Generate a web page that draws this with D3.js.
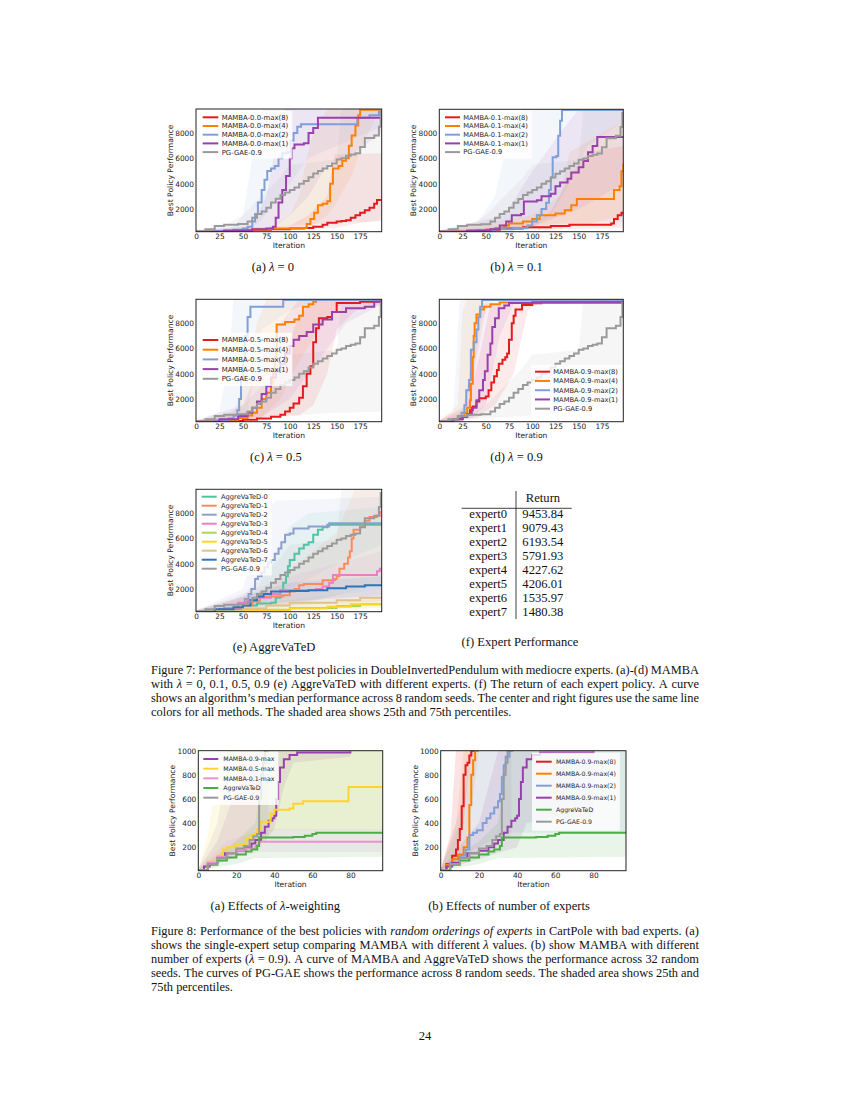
<!DOCTYPE html>
<html><head><meta charset="utf-8">
<script src="https://cdn.jsdelivr.net/npm/d3@7"></script>
<style>body{margin:0;background:#fff}</style>
</head><body>
<script>
// ---------------- DATA ----------------
const iterTicks7 = [0,25,50,75,100,125,150,175];
const perfTicks7 = [2000,4000,6000,8000];
const iterTicks8 = [0,20,40,60,80];
const perfTicks8 = [200,400,600,800,1000];

// PG-GAE (shared in Figure 7)
const pgGae7 = [[0,200],[10,400],[20,650],[30,750],[45,800],[55,1000],[60,1300],[65,1600],[70,1800],[75,2100],[80,2500],[85,2800],[90,3100],[95,3300],[100,3500],[105,3700],[110,4000],[115,4200],[120,4500],[125,4800],[130,5000],[135,5200],[140,5400],[145,5600],[150,5900],[155,6000],[160,6200],[165,6300],[170,6400],[175,6900],[180,7600],[190,7800],[195,8500],[197,9600],[198,9600]];
const pgGae7Lo = [[0,200],[60,500],[100,700],[150,900],[198,1000]];
const pgGae7Hi = [[0,300],[30,700],[50,1500],[70,3000],[90,4500],[100,5500],[150,5900],[155,9900],[198,9900]];

// (a) lambda = 0
const a_max8 = [[0,200],[20,230],[40,300],[60,350],[80,400],[100,450],[115,500],[125,600],[135,750],[140,900],[150,1000],[155,1050],[160,1100],[165,1300],[170,1500],[175,1700],[180,1900],[185,2100],[190,2400],[193,2700],[198,2700]];
const a_max8_lo = [[0,200],[150,500],[175,900],[198,1100]];
const a_max8_hi = [[0,250],[100,700],[120,1500],[140,3000],[148,6300],[198,6400]];
const a_max4 = [[0,200],[40,300],[60,400],[80,450],[100,480],[115,500],[118,800],[122,1200],[126,1700],[130,2300],[135,2400],[140,2600],[143,4000],[146,5200],[152,5400],[156,5800],[160,6000],[163,7000],[166,7800],[170,8600],[173,9400],[175,9850],[198,9850]];
const a_max4_lo = [[0,200],[110,400],[125,700],[140,1500],[150,2500],[165,4500],[175,6500],[190,9000],[198,9900]];
const a_max4_hi = [[0,300],[80,600],[100,1500],[110,3000],[118,6000],[125,8000],[140,9900],[198,9900]];
const a_max2 = [[0,200],[20,250],[40,350],[50,450],[55,600],[60,1000],[63,1600],[66,2500],[70,3500],[73,4300],[76,5000],[80,5200],[84,5400],[88,6000],[92,6400],[98,6500],[101,7400],[104,8000],[108,8500],[112,8700],[165,8700],[172,9200],[185,9400],[195,9700],[198,9800]];
const a_max2_lo = [[0,200],[55,300],[65,800],[80,2000],[100,4000],[120,6000],[150,7000],[198,8500]];
const a_max2_hi = [[0,300],[40,600],[50,1500],[60,6000],[70,9900],[198,9900]];
const a_max1 = [[0,200],[30,300],[60,400],[75,450],[82,600],[85,1300],[88,2500],[92,3500],[96,4600],[100,6000],[102,6800],[105,7100],[115,7200],[120,8000],[125,8400],[130,9200],[198,9250]];
const a_max1_lo = [[0,200],[80,400],[100,1500],[120,3000],[140,5500],[170,6500],[198,8000]];
const a_max1_hi = [[0,300],[60,700],[75,3000],[85,7000],[95,9900],[198,9900]];

// (b) lambda = 0.1
const b_max8 = [[0,200],[30,250],[50,350],[65,450],[90,550],[120,650],[140,750],[185,850],[188,1200],[192,1500],[196,1700],[198,1700]];
const b_max8_lo = [[0,200],[198,500]];
const b_max8_hi = [[0,250],[100,800],[120,1800],[140,4500],[160,6500],[198,7000]];
const b_max4 = [[0,200],[40,300],[60,500],[70,700],[75,850],[90,1000],[100,1200],[108,1500],[125,1650],[135,1900],[142,2300],[148,2800],[185,2800],[188,3500],[194,3800],[196,5000],[198,5600]];
const b_max4_lo = [[0,200],[120,400],[160,800],[198,1500]];
const b_max4_hi = [[0,300],[100,1500],[130,3000],[140,6500],[198,9000]];
const b_max2 = [[0,200],[40,300],[60,400],[80,500],[95,700],[100,1000],[105,1500],[110,2000],[115,2500],[118,3500],[120,4500],[122,6100],[126,6200],[128,7800],[130,9000],[132,9850],[198,9850]];
const b_max2_lo = [[0,200],[100,500],[120,1500],[140,4000],[160,7000],[198,9000]];
const b_max2_hi = [[0,300],[40,800],[60,3000],[75,8000],[90,9900],[198,9900]];
const b_max1 = [[0,200],[30,300],[55,400],[65,700],[72,1000],[78,1500],[88,1600],[91,2600],[105,2700],[110,3000],[120,3200],[125,3800],[130,4100],[138,4400],[142,4900],[150,5300],[155,5800],[160,6500],[165,7000],[170,7700],[198,7750]];
const b_max1_lo = [[0,200],[100,600],[150,2000],[198,4000]];
const b_max1_hi = [[0,300],[70,1500],[100,5000],[130,8000],[150,9900],[198,9900]];

// (c) lambda = 0.5
const c_max8 = [[0,200],[30,250],[50,350],[65,450],[80,600],[90,750],[95,1000],[100,1300],[104,1650],[110,2100],[114,3000],[118,4000],[122,4600],[125,6500],[128,7600],[131,8400],[140,8500],[145,8900],[150,9600],[175,9700],[196,9850],[198,9850]];
const c_max8_lo = [[0,200],[110,700],[125,1500],[140,4000],[150,7500],[170,9000],[198,9500]];
const c_max8_hi = [[0,250],[70,1200],[90,5000],[110,8500],[125,9900],[198,9900]];
const c_max4 = [[0,200],[25,300],[45,500],[55,700],[60,900],[65,1300],[70,2000],[75,2500],[80,3200],[82,4000],[84,5300],[86,7900],[95,8100],[105,8300],[110,8600],[114,9300],[120,9500],[125,9700],[128,9850],[198,9850]];
const c_max4_lo = [[0,200],[70,500],[90,2000],[110,5000],[140,8500],[160,9900],[198,9900]];
const c_max4_hi = [[0,300],[40,1000],[55,4000],[65,8000],[75,9900],[198,9900]];
const c_max2 = [[0,200],[20,300],[35,450],[40,700],[44,1100],[46,2000],[48,3500],[50,5000],[52,7000],[55,8500],[58,9300],[90,9300],[93,9850],[198,9850]];
const c_max2_lo = [[0,200],[45,400],[55,1000],[60,3000],[70,7500],[100,9000],[130,9900],[198,9900]];
const c_max2_hi = [[0,300],[25,1000],[35,5000],[40,9900],[198,9900]];
const c_max1 = [[0,200],[25,400],[45,650],[55,900],[60,1300],[65,1800],[70,2400],[75,3000],[80,3700],[85,4200],[90,4800],[95,5600],[100,6200],[104,6700],[110,7000],[118,7300],[125,7900],[135,8300],[145,8900],[160,9200],[180,9300],[190,9700],[198,9850]];
const c_max1_lo = [[0,200],[70,600],[100,2000],[130,5000],[160,8000],[198,9500]];
const c_max1_hi = [[0,300],[50,1500],[70,5000],[90,8000],[110,9900],[198,9900]];

// (d) lambda = 0.9
const d_max8 = [[0,200],[15,400],[25,600],[30,800],[33,1100],[36,1400],[40,1800],[43,2050],[50,2200],[53,2700],[56,3300],[59,3800],[62,4300],[64,4800],[68,5100],[71,5300],[73,5600],[75,6700],[78,8000],[80,8600],[82,9100],[89,9450],[100,9580],[110,9650],[198,9650]];
const d_max8_lo = [[0,200],[40,500],[60,1500],[80,4000],[95,9000],[105,9500],[198,9600]];
const d_max8_hi = [[0,300],[30,1500],[45,6000],[55,9500],[198,9700]];
const d_max4 = [[0,200],[10,350],[20,600],[27,900],[30,1300],[33,1900],[34,3200],[36,5300],[37,7000],[38,8000],[40,8700],[44,9100],[48,9300],[55,9500],[65,9650],[198,9650]];
const d_max4_lo = [[0,200],[30,600],[40,5000],[50,9000],[60,9600],[198,9650]];
const d_max4_hi = [[0,300],[20,1500],[25,9000],[30,9900],[198,9900]];
const d_max2 = [[0,200],[10,350],[20,600],[24,900],[27,1500],[29,2700],[32,3500],[34,5900],[37,6500],[40,7500],[42,8500],[44,9300],[46,9850],[198,9850]];
const d_max2_lo = [[0,200],[25,500],[35,3000],[45,8000],[55,9900],[198,9900]];
const d_max2_hi = [[0,300],[15,1000],[22,9900],[198,9900]];
const d_max1 = [[0,200],[15,400],[25,600],[30,800],[35,1300],[40,1900],[43,2700],[47,3500],[49,4200],[52,5500],[55,6400],[57,7700],[60,8400],[64,9200],[70,9400],[75,9600],[100,9660],[198,9660]];
const d_max1_lo = [[0,200],[35,500],[50,1500],[65,7000],[80,9500],[198,9650]];
const d_max1_hi = [[0,300],[25,1000],[35,5000],[45,9500],[198,9700]];

// (e) AggreVaTeD
const e_exp0 = [[0,200],[25,400],[50,700],[65,850],[80,900],[85,1300],[90,1900],[93,2500],[96,3000],[98,3800],[100,4300],[105,4800],[110,5200],[115,5500],[120,5700],[125,6300],[130,6700],[135,6900],[140,7100],[198,7150]];
const e_exp0_lo = [[0,200],[100,600],[150,1500],[198,2000]];
const e_exp0_hi = [[0,300],[60,1500],[80,4000],[100,7000],[120,8000],[198,8500]];
const e_exp1 = [[0,200],[30,400],[50,700],[60,1000],[68,1400],[93,1500],[100,1800],[105,2000],[110,2300],[115,2400],[130,2400],[135,2700],[148,2800],[150,3000],[153,3600],[158,4000],[162,4500],[164,5000],[166,6000],[168,6700],[175,6950],[180,7400],[185,7700],[193,7800],[196,8100],[198,8100]];
const e_exp1_lo = [[0,200],[100,800],[150,1500],[198,2500]];
const e_exp1_hi = [[0,300],[75,2000],[100,3500],[150,6500],[170,9900],[198,9900]];
const e_exp2 = [[0,200],[25,400],[45,800],[52,1200],[56,1600],[59,2000],[63,2800],[66,3000],[70,3300],[73,3700],[77,4100],[80,4300],[84,4800],[88,5200],[91,5700],[95,6300],[100,6400],[104,6800],[120,6950],[142,7200],[198,7300]];
const e_exp2_lo = [[0,200],[70,800],[100,2000],[150,4000],[198,5500]];
const e_exp2_hi = [[0,300],[50,2000],[70,7500],[85,9000],[198,9300]];
const e_exp3 = [[0,200],[30,500],[45,900],[55,1100],[65,1300],[80,1600],[90,1900],[128,2000],[135,2200],[142,2500],[146,3100],[190,3100],[193,3400],[196,3600],[198,3600]];
const e_exp3_lo = [[0,200],[100,900],[198,1500]];
const e_exp3_hi = [[0,300],[100,3000],[150,4000],[198,5000]];
const e_exp4 = [[0,200],[50,350],[100,500],[150,650],[175,800],[198,850]];
const e_exp4_lo = [[0,200],[198,500]];
const e_exp4_hi = [[0,250],[198,1500]];
const e_exp5 = [[0,200],[50,300],[100,450],[140,600],[165,800],[198,850]];
const e_exp5_lo = [[0,200],[198,500]];
const e_exp5_hi = [[0,250],[198,1200]];
const e_exp6 = [[0,200],[50,450],[75,700],[100,900],[150,1100],[175,1300],[198,1350]];
const e_exp6_lo = [[0,200],[198,800]];
const e_exp6_hi = [[0,300],[198,2000]];
const e_exp7 = [[0,200],[20,400],[40,550],[50,700],[58,1100],[65,1400],[72,1600],[80,1800],[100,1850],[120,1900],[140,2050],[160,2200],[180,2300],[198,2400]];
const e_exp7_lo = [[0,200],[100,1000],[198,1500]];
const e_exp7_hi = [[0,300],[100,2500],[198,3000]];

// Figure 8 (CartPole)
const f8_max1 = [[0,10],[3,40],[6,70],[10,110],[14,150],[20,170],[25,200],[28,230],[30,260],[33,320],[35,370],[37,420],[39,440],[40,460],[41,600],[42,740],[43,860],[45,930],[48,965],[52,985],[80,995]];
const f8_pg = [[0,10],[5,60],[10,110],[15,150],[20,190],[24,210],[27,260],[29,290],[31,310],[32,600],[33,800],[34,900],[35,1000],[37,1000]];
const f8_pg_lo = [[0,5],[20,150],[30,220],[37,300]];
const f8_pg_hi = [[0,20],[10,400],[16,1000],[37,1000]];
const f8_aggre = [[0,10],[5,55],[10,90],[15,115],[20,140],[25,165],[28,180],[31,210],[32,280],[50,285],[56,295],[60,310],[62,320],[97,320]];
const f8_aggre_lo = [[0,5],[20,60],[30,110],[97,120]];
const f8_aggre_hi = [[0,20],[20,250],[30,400],[35,1000],[97,1000]];
// (a) lambda weighting
const f8a_l09_lo = [[0,5],[20,120],[35,250],[40,350],[45,700],[50,900],[80,950]];
const f8a_l09_hi = [[0,20],[10,250],[18,600],[22,1000],[80,1000]];
const f8a_l05 = [[0,10],[5,80],[10,130],[13,180],[15,200],[20,220],[25,270],[28,300],[31,350],[33,410],[38,480],[40,510],[48,520],[50,560],[55,580],[77,580],[79,700],[97,700]];
const f8a_l05_lo = [[0,5],[10,80],[20,150],[30,250],[40,340],[97,345]];
const f8a_l05_hi = [[0,20],[5,300],[10,800],[13,1000],[97,1000]];
const f8a_l01 = [[0,10],[5,70],[10,120],[15,150],[20,170],[25,190],[30,215],[32,245],[97,245]];
const f8a_l01_lo = [[0,5],[20,120],[32,160],[97,160]];
const f8a_l01_hi = [[0,20],[15,250],[25,300],[35,350],[97,350]];
// (b) number of experts
const f8b_max8 = [[0,10],[3,60],[6,130],[8,180],[9,260],[10,350],[11,540],[12,800],[13,880],[14,900],[15,960],[16,1000],[18,1000]];
const f8b_max8_lo = [[0,5],[8,100],[12,400],[15,900],[18,1000]];
const f8b_max8_hi = [[0,20],[5,300],[8,1000],[18,1000]];
const f8b_max4 = [[0,10],[3,55],[6,100],[9,140],[12,200],[14,280],[15,550],[16,800],[17,920],[18,1000],[20,1000]];
const f8b_max4_lo = [[0,5],[12,150],[16,500],[20,1000]];
const f8b_max4_hi = [[0,20],[8,400],[12,1000],[20,1000]];
const f8b_max2 = [[0,10],[5,70],[10,130],[13,180],[15,300],[17,320],[19,340],[22,400],[24,440],[26,480],[28,530],[30,580],[31,640],[32,780],[33,880],[34,950],[36,1000],[38,1000]];
const f8b_max2_lo = [[0,5],[20,200],[35,320],[97,320]];
const f8b_max2_hi = [[0,20],[10,500],[15,1000],[97,1000]];
const f8b_max1_lo = [[0,5],[40,200],[45,400],[60,450],[80,450]];
const f8b_max1_hi = [[0,20],[20,400],[30,1000],[80,1000]];

// Labels
const labelsA = ["MAMBA-0.0-max(8)","MAMBA-0.0-max(4)","MAMBA-0.0-max(2)","MAMBA-0.0-max(1)","PG-GAE-0.9"];
const labelsB = ["MAMBA-0.1-max(8)","MAMBA-0.1-max(4)","MAMBA-0.1-max(2)","MAMBA-0.1-max(1)","PG-GAE-0.9"];
const labelsC = ["MAMBA-0.5-max(8)","MAMBA-0.5-max(4)","MAMBA-0.5-max(2)","MAMBA-0.5-max(1)","PG-GAE-0.9"];
const labelsD = ["MAMBA-0.9-max(8)","MAMBA-0.9-max(4)","MAMBA-0.9-max(2)","MAMBA-0.9-max(1)","PG-GAE-0.9"];
const labelsE = ["AggreVaTeD-0","AggreVaTeD-1","AggreVaTeD-2","AggreVaTeD-3","AggreVaTeD-4","AggreVaTeD-5","AggreVaTeD-6","AggreVaTeD-7","PG-GAE-0.9"];
const labelsF8a = ["MAMBA-0.9-max","MAMBA-0.5-max","MAMBA-0.1-max","AggreVaTeD","PG-GAE-0.9"];
const labelsF8b = ["MAMBA-0.9-max(8)","MAMBA-0.9-max(4)","MAMBA-0.9-max(2)","MAMBA-0.9-max(1)","AggreVaTeD","PG-GAE-0.9"];

const expertNames = ["expert0","expert1","expert2","expert3","expert4","expert5","expert6","expert7"];
const expertReturns = ["9453.84","9079.43","6193.54","5791.93","4227.62","4206.01","1535.97","1480.38"];

// ---------------- STYLES ----------------
const C = {red:"#e41a1c", orange:"#ff7f00", lblue:"#7f9fd8", purple:"#9a3fae", gray:"#9a9a9a",
  teal:"#52c3a1", salmon:"#fb8a5e", lav:"#8c9fcf", pink:"#ea7fc7", lgreen:"#a6d854", yellow:"#ffd42a", tan:"#e2c08e", blue:"#2f74b8",
  green:"#4aad46", gold:"#ffd42a", pink2:"#ef8fcf"};
const SERIF = "'Liberation Serif','Times New Roman',serif";
const SANS = "'DejaVu Sans',sans-serif";

const svg = d3.select("body").append("svg").attr("width",850).attr("height",1100);
svg.append("rect").attr("width",850).attr("height",1100).attr("fill","#fff");

function interp(arr, x){
  if (x <= arr[0][0]) return arr[0][1];
  for (let i=1;i<arr.length;i++){
    if (x <= arr[i][0]){ const [x0,y0]=arr[i-1],[x1,y1]=arr[i]; return y0 + (y1-y0)*(x-x0)/(x1-x0); }
  }
  return arr[arr.length-1][1];
}
let clipN = 0;
function panel(cfg){
  const g = svg.append("g");
  const x = d3.scaleLinear().domain(cfg.xd).range([cfg.l,cfg.r]);
  const y = d3.scaleLinear().domain(cfg.yd).range([cfg.b,cfg.t]);
  const id = "clip"+(++clipN);
  svg.append("clipPath").attr("id",id).append("rect").attr("x",cfg.l).attr("y",cfg.t).attr("width",cfg.r-cfg.l).attr("height",cfg.b-cfg.t);
  const plot = g.append("g").attr("clip-path",`url(#${id})`);
  cfg.series.forEach(s=>{
    if(!s.lo) return;
    const end = Math.max(s.lo[s.lo.length-1][0], s.hi[s.hi.length-1][0]);
    const xs = Array.from(new Set([...s.lo.map(d=>d[0]),...s.hi.map(d=>d[0])])).sort((a,b)=>a-b).filter(v=>v<=end);
    const pts = xs.map(v=>({x:v, lo:interp(s.lo,v), hi:interp(s.hi,v)}));
    plot.append("path").datum(pts)
      .attr("d", d3.area().x(d=>x(d.x)).y0(d=>y(d.lo)).y1(d=>y(d.hi)))
      .attr("fill", s.color).attr("fill-opacity", cfg.bandOp || 0.09);
  });
  cfg.series.forEach(s=>{
    plot.append("path").datum(s.line)
      .attr("d", d3.line().x(d=>x(d[0])).y(d=>y(d[1])).curve(d3.curveStepAfter))
      .attr("fill","none").attr("stroke",s.color).attr("stroke-width",2);
  });
  g.append("rect").attr("x",cfg.l).attr("y",cfg.t).attr("width",cfg.r-cfg.l).attr("height",cfg.b-cfg.t)
    .attr("fill","none").attr("stroke","#222").attr("stroke-width",1);
  const xa = g.append("g").attr("transform",`translate(0,${cfg.b})`)
    .call(d3.axisBottom(x).tickValues(cfg.xt).tickSize(0).tickPadding(2.5).tickFormat(d3.format("d")));
  xa.select(".domain").remove();
  xa.attr("font-family",SANS).attr("font-size",7.4);
  xa.selectAll("text").attr("fill","#222");
  const ya = g.append("g").attr("transform",`translate(${cfg.l},0)`)
    .call(d3.axisLeft(y).tickValues(cfg.yt).tickSize(0).tickPadding(2).tickFormat(d3.format("d")));
  ya.select(".domain").remove();
  ya.attr("font-family",SANS).attr("font-size",7.4);
  ya.selectAll("text").attr("fill","#222");
  g.append("text").attr("x",(cfg.l+cfg.r)/2).attr("y",cfg.b+16.5).attr("text-anchor","middle")
    .attr("font-family",SANS).attr("font-size",7.6).attr("fill","#222").text("Iteration");
  g.append("text").attr("transform",`translate(${cfg.ylx},${(cfg.t+cfg.b)/2}) rotate(-90)`).attr("text-anchor","middle")
    .attr("dy","0.35em").attr("font-family",SANS).attr("font-size",7.6).attr("fill","#222").text("Best Policy Performance");
  // legend
  const L = cfg.legend;
  const lg = g.append("g");
  const bg = lg.append("rect").attr("fill","#fff").attr("fill-opacity",0.8);
  let maxW = 0;
  cfg.series.forEach((s,i)=>{
    const yy = L.y + i*L.dy;
    lg.append("line").attr("x1",L.x).attr("x2",L.x+L.len).attr("y1",yy).attr("y2",yy).attr("stroke",s.color).attr("stroke-width",2);
    const t = lg.append("text").attr("x",L.tx).attr("y",yy).attr("dy","0.35em").attr("font-family",SANS)
      .attr("font-size",L.fs).attr("fill","#222").text(s.label);
    maxW = Math.max(maxW, t.node().getComputedTextLength());
  });
  bg.attr("x",L.x-4).attr("y",L.y-L.dy*0.75).attr("width",L.tx+maxW+4-(L.x-4)).attr("height",(cfg.series.length-1)*L.dy+L.dy*1.5);
}
function mk(labels, colors, lines, los, his){
  return labels.map((lab,i)=>({label:lab,color:colors[i],line:lines[i],lo:los[i],hi:his[i]}));
}
const mambaCols = [C.red,C.orange,C.lblue,C.purple,C.gray];
const xd7=[0,198], yd7=[200,9900];

panel({l:196,r:381.7,t:109,b:231.7,xd:xd7,yd:yd7,xt:iterTicks7,yt:perfTicks7,ylx:170.7,
  series: mk(labelsA,mambaCols,[a_max8,a_max4,a_max2,a_max1,pgGae7],[a_max8_lo,a_max4_lo,a_max2_lo,a_max1_lo,pgGae7Lo],[a_max8_hi,a_max4_hi,a_max2_hi,a_max1_hi,pgGae7Hi]),
  legend:{x:202.7,len:15.6,tx:221.7,y:117.3,dy:8.7,fs:6.9}});
panel({l:439.3,r:623.3,t:109.3,b:231.7,xd:xd7,yd:yd7,xt:iterTicks7,yt:perfTicks7,ylx:413.3,
  series: mk(labelsB,mambaCols,[b_max8,b_max4,b_max2,b_max1,pgGae7],[b_max8_lo,b_max4_lo,b_max2_lo,b_max1_lo,pgGae7Lo],[b_max8_hi,b_max4_hi,b_max2_hi,b_max1_hi,pgGae7Hi]),
  legend:{x:445,len:15,tx:463.3,y:117.3,dy:8.7,fs:6.7}});
panel({l:196,r:381.7,t:299.3,b:421.7,xd:xd7,yd:yd7,xt:iterTicks7,yt:perfTicks7,ylx:170.7,
  series: mk(labelsC,mambaCols,[c_max8,c_max4,c_max2,c_max1,pgGae7],[c_max8_lo,c_max4_lo,c_max2_lo,c_max1_lo,pgGae7Lo],[c_max8_hi,c_max4_hi,c_max2_hi,c_max1_hi,pgGae7Hi]),
  legend:{x:202.7,len:15.6,tx:221.7,y:340,dy:9.7,fs:6.9}});
panel({l:439.3,r:623.3,t:299.3,b:421.7,xd:xd7,yd:yd7,xt:iterTicks7,yt:perfTicks7,ylx:413.3,
  series: mk(labelsD,mambaCols,[d_max8,d_max4,d_max2,d_max1,pgGae7],[d_max8_lo,d_max4_lo,d_max2_lo,d_max1_lo,pgGae7Lo],[d_max8_hi,d_max4_hi,d_max2_hi,d_max1_hi,pgGae7Hi]),
  legend:{x:535,len:15,tx:553.3,y:371.7,dy:9.25,fs:6.7}});
panel({l:196,r:381.7,t:489.3,b:611.7,xd:xd7,yd:yd7,xt:iterTicks7,yt:perfTicks7,ylx:170.7,
  series: mk(labelsE,[C.teal,C.salmon,C.lav,C.pink,C.lgreen,C.yellow,C.tan,C.blue,C.gray],
    [e_exp0,e_exp1,e_exp2,e_exp3,e_exp4,e_exp5,e_exp6,e_exp7,pgGae7],
    [e_exp0_lo,e_exp1_lo,e_exp2_lo,e_exp3_lo,e_exp4_lo,e_exp5_lo,e_exp6_lo,e_exp7_lo,pgGae7Lo],
    [e_exp0_hi,e_exp1_hi,e_exp2_hi,e_exp3_hi,e_exp4_hi,e_exp5_hi,e_exp6_hi,e_exp7_hi,pgGae7Hi]),
  legend:{x:201.7,len:15,tx:221,y:496.7,dy:9,fs:6.7}});

const xd8=[0,97], yd8=[5,1000];
panel({l:198.3,r:382.7,t:750.7,b:870.7,xd:xd8,yd:yd8,xt:iterTicks8,yt:perfTicks8,ylx:172.3,bandOp:0.12,
  series: mk(labelsF8a,[C.purple,C.gold,C.pink2,C.green,C.gray],[f8_max1,f8a_l05,f8a_l01,f8_aggre,f8_pg],
    [f8a_l09_lo,f8a_l05_lo,f8a_l01_lo,f8_aggre_lo,f8_pg_lo],[f8a_l09_hi,f8a_l05_hi,f8a_l01_hi,f8_aggre_hi,f8_pg_hi]),
  legend:{x:203.3,len:15,tx:223.3,y:759,dy:9.67,fs:6.2}});
panel({l:440.7,r:626,t:750.7,b:870.7,xd:xd8,yd:yd8,xt:iterTicks8,yt:perfTicks8,ylx:415,bandOp:0.12,
  series: mk(labelsF8b,[C.red,C.orange,C.lblue,C.purple,C.green,C.gray],[f8b_max8,f8b_max4,f8b_max2,f8_max1,f8_aggre,f8_pg],
    [f8b_max8_lo,f8b_max4_lo,f8b_max2_lo,f8b_max1_lo,f8_aggre_lo,f8_pg_lo],[f8b_max8_hi,f8b_max4_hi,f8b_max2_hi,f8b_max1_hi,f8_aggre_hi,f8_pg_hi]),
  legend:{x:536,len:15.7,tx:556,y:761.7,dy:12,fs:6.2}});

// ---------------- TEXT ----------------
function richText(sel, str){
  str.split("*").forEach((seg,i)=>{ if(seg.length) sel.append("tspan").attr("font-style", i%2 ? "italic" : null).text(seg); });
  return sel;
}
function subCap(x, y, str){
  richText(svg.append("text").attr("x",x).attr("y",y).attr("text-anchor","middle")
    .attr("font-family",SERIF).attr("font-size",12.6).attr("fill","#111"), str);
}
subCap(273, 271, "(a) *λ* = 0");
subCap(516.5, 271, "(b) *λ* = 0.1");
subCap(276, 461, "(c) *λ* = 0.5");
subCap(516.5, 461, "(d) *λ* = 0.9");
subCap(274, 651, "(e) AggreVaTeD");
subCap(520, 646, "(f) Expert Performance");
subCap(275.3, 910, "(a) Effects of *λ*-weighting");
subCap(509, 910, "(b) Effects of number of experts");

// table
const tg = svg.append("g").attr("font-family",SERIF).attr("font-size",12.6).attr("fill","#111");
tg.append("line").attr("x1",516).attr("x2",516).attr("y1",491).attr("y2",619).attr("stroke","#111").attr("stroke-width",0.8);
tg.append("line").attr("x1",461.7).attr("x2",571.7).attr("y1",508.3).attr("y2",508.3).attr("stroke","#111").attr("stroke-width",0.8);
tg.append("text").attr("x",543).attr("y",502).attr("text-anchor","middle").text("Return");
expertNames.forEach((n,i)=>{
  tg.append("text").attr("x",469.3).attr("y",517.5+i*14).text(n);
  tg.append("text").attr("x",542.8).attr("y",517.5+i*14).attr("text-anchor","middle").text(expertReturns[i]);
});

// captions
const fig7Lines = [
 "Figure 7: Performance of the best policies in DoubleInvertedPendulum with mediocre experts. (a)-(d) MAMBA",
 "with *λ* = 0, 0.1, 0.5, 0.9 (e) AggreVaTeD with different experts. (f) The return of each expert policy. A curve",
 "shows an algorithm’s median performance across 8 random seeds. The center and right figures use the same line",
 "colors for all methods. The shaded area shows 25th and 75th percentiles."];
const fig8Lines = [
 "Figure 8: Performance of the best policies with *random* *orderings* *of* *experts* in CartPole with bad experts. (a)",
 "shows the single-expert setup comparing MAMBA with different *λ* values. (b) show MAMBA with different",
 "number of experts (*λ* = 0.9). A curve of MAMBA and AggreVaTeD shows the performance across 32 random",
 "seeds. The curves of PG-GAE shows the performance across 8 random seeds. The shaded area shows 25th and",
 "75th percentiles."];
function paragraph(lines, x0, x1, y0, lh){
  const g = svg.append("g").attr("font-family",SERIF).attr("font-size",12.4).attr("fill","#111");
  lines.forEach((ln,li)=>{
    const y = y0 + li*lh;
    const words = ln.split(" ");
    const els = words.map(w=>richText(g.append("text").attr("y",y), w));
    const ws = els.map(e=>e.node().getComputedTextLength());
    const tot = d3.sum(ws);
    const justify = li < lines.length-1;
    const sp = justify ? (x1-x0-tot)/(words.length-1) : 3.1;
    let x = x0;
    els.forEach((e,i)=>{ e.attr("x",x); x += ws[i]+sp; });
  });
}
paragraph(fig7Lines, 151, 699, 674, 13.9);
paragraph(fig8Lines, 151, 699, 935, 13.9);
svg.append("text").attr("x",425).attr("y",1039.5).attr("text-anchor","middle").attr("font-family",SERIF).attr("font-size",12.6).attr("fill","#111").text("24");
</script>
</body></html>
